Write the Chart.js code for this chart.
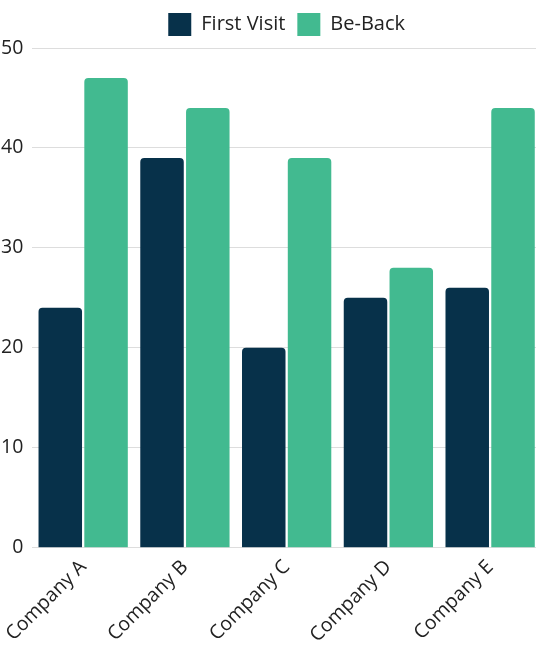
<!DOCTYPE html>
<html>
<head>
<meta charset="utf-8">
<script src="https://cdn.jsdelivr.net/npm/chart.js@4/dist/chart.umd.min.js"></script>
<style>
html,body{margin:0;padding:0;background:#fff;overflow:hidden;}
#wrap{position:relative;width:541px;height:650px;}
</style>
</head>
<body>
<div id="wrap"><canvas id="c"></canvas></div>
<script>
const categories = ["Company A","Company B","Company C","Company D","Company E"];
const firstVisit = [24, 39, 20, 25, 26];
const beBack = [47, 44, 39, 28, 44];
const seriesNames = ["First Visit","Be-Back"];
const yTicks = [0,10,20,30,40,50];

const FONT = "'Open Sans', sans-serif";
Chart.defaults.font.family = FONT;
Chart.defaults.color = "#222";

const legendGap = {
  id: 'legendGap',
  beforeLayout(chart) {
    const l = chart.legend;
    if (l && !l._gapPatched) {
      const f = l.fit.bind(l);
      l.fit = function() { f(); this.height += 2; };
      l._gapPatched = true;
    }
  }
};

new Chart(document.getElementById('c'), {
  type: 'bar',
  data: {
    labels: categories,
    datasets: [
      {label: seriesNames[0], data: firstVisit, backgroundColor: '#07314a',
       borderRadius: {topLeft:4, topRight:4}, borderSkipped: 'bottom'},
      {label: seriesNames[1], data: beBack, backgroundColor: '#42ba90',
       borderRadius: {topLeft:4, topRight:4}, borderSkipped: 'bottom'}
    ]
  },
  plugins: [legendGap],
  options: {
    responsive: true,
    maintainAspectRatio: false,
    animation: false,
    datasets: {bar: {categoryPercentage: 0.9, barPercentage: 0.95}},
    layout: {padding: {top: 1, left: 0, right: 0, bottom: 3}},
    plugins: {
      legend: {
        position: 'top',
        fullSize: false,
        labels: {
          boxWidth: 23, boxHeight: 23, padding: 12,
          font: {size: 20, family: FONT}, color: '#222'
        }
      },
      tooltip: {enabled: false}
    },
    scales: {
      x: {
        grid: {display: false},
        border: {display: false},
        ticks: {font: {size: 19.5, family: FONT}, color: '#222', maxRotation: 45, minRotation: 45, padding: 0}
      },
      y: {
        min: 0, max: 50,
        afterBuildTicks: (axis) => { axis.ticks = yTicks.map(v => ({value: v})); },
        grid: {color: '#dddddd', lineWidth: 1, drawTicks: true, tickLength: 8, tickColor: 'rgba(0,0,0,0)'},
        border: {display: false},
        ticks: {font: {size: 19.5, family: FONT}, color: '#222', padding: 1}
      }
    }
  }
});
</script>
</body>
</html>
